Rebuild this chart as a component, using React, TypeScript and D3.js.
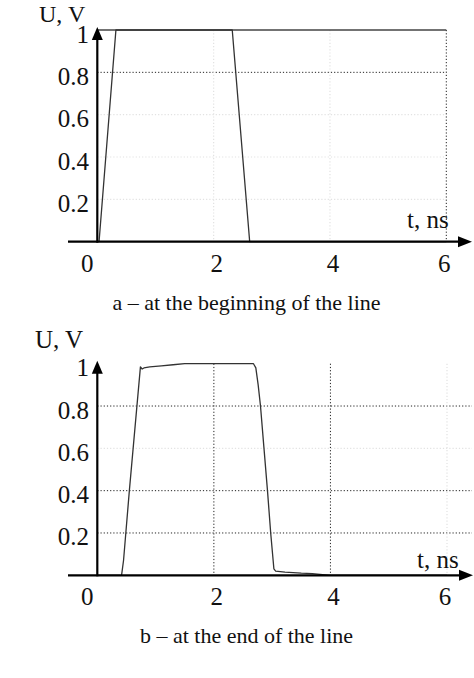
import React from "react";
import * as d3 from "d3";

// ---- data ----
const xTicks = [0, 2, 4, 6];
const yTicks = [0.2, 0.4, 0.6, 0.8, 1];
const yTickLabels = ["0.2", "0.4", "0.6", "0.8", "1"];

// a – at the beginning of the line
const beginT = [0.03, 0.32, 2.32, 2.62, 6.0];
const beginU = [0.0, 1.0, 1.0, 0.0, 0.0];

// b – at the end of the line
const endT = [0.0, 0.416, 0.45, 0.55, 0.74, 0.77, 0.8, 0.9, 1.1, 1.3, 1.5, 2.0, 2.68, 2.72, 2.76, 2.8, 2.86, 2.92, 2.975, 3.03, 3.06, 3.22, 3.5, 3.69, 3.91, 4.0, 6.0];
const endU = [0.0, 0.0, 0.07, 0.4, 0.985, 0.975, 0.98, 0.985, 0.99, 0.995, 1.0, 1.0, 1.0, 0.98, 0.9, 0.8, 0.6, 0.4, 0.2, 0.03, 0.02, 0.015, 0.01, 0.008, 0.002, 0.0, 0.0];

const captions = ["a – at the beginning of the line", "b – at the end of the line"];

const FONT = "'Liberation Serif', 'Times New Roman', serif";
const DARK = "#222";
const FAINT = "#e2e2e2";

type PanelProps = {
  t: number[];
  u: number[];
  x0: number; x1: number; yBase: number; yTop: number;
  axisLeft: number; axisRight: number;
  darkH: number[];
  darkV: number[];
  hRight: number;
  topSolid: boolean;
  uvX: number; uvDy: number; uvSize: number;
  tnsX: number; tnsDy: number;
  caption: string; captionY: number;
};

function Panel(p: PanelProps) {
  const x = d3.scaleLinear().domain([0, 6]).range([p.x0, p.x1]);
  const y = d3.scaleLinear().domain([0, 1]).range([p.yBase, p.yTop]);
  const line = d3.line<number>().x((_, i) => x(p.t[i])).y((d) => y(d));
  const yAxisX = x(0);
  return (
    <g>
      {yTicks.filter((v) => v < 1).map((v) => (
        <line key={"h" + v} x1={yAxisX} x2={p.hRight} y1={y(v)} y2={y(v)}
          stroke={p.darkH.includes(v) ? DARK : FAINT}
          strokeWidth={p.darkH.includes(v) ? 1 : 1.2}
          strokeDasharray="1.2,2" />
      ))}
      {xTicks.filter((v) => v > 0).map((v) => (
        <line key={"v" + v} x1={x(v)} x2={x(v)} y1={y(1)} y2={p.yBase}
          stroke={p.darkV.includes(v) ? DARK : FAINT}
          strokeWidth={p.darkV.includes(v) ? 1 : 1.2}
          strokeDasharray="1.2,2" />
      ))}
      {p.topSolid && (
        <line x1={yAxisX} x2={x(6)} y1={y(1)} y2={y(1)} stroke="#444" strokeWidth={1.3} />
      )}
      <path d={line(p.u) || ""} fill="none" stroke="#333" strokeWidth={1.3} strokeLinejoin="round" />
      <line x1={p.axisLeft} x2={p.axisRight - 10} y1={p.yBase} y2={p.yBase} stroke="#000" strokeWidth={2.2} />
      <path d={`M${p.axisRight},${p.yBase} L${p.axisRight - 14},${p.yBase - 5.5} L${p.axisRight - 14},${p.yBase + 5.5} Z`} fill="#000" />
      <line x1={yAxisX} x2={yAxisX} y1={p.yBase + 1} y2={y(1) + 2} stroke="#000" strokeWidth={2.2} />
      <path d={`M${yAxisX},${y(1) - 3} L${yAxisX - 5.5},${y(1) + 10} L${yAxisX + 5.5},${y(1) + 10} Z`} fill="#000" />
      {yTicks.map((v, i) => (
        <text key={"yl" + v} x={89} y={y(v) + 12.5} textAnchor="end" fontSize={25} fontFamily={FONT} fill="#111">
          {yTickLabels[i]}
        </text>
      ))}
      {xTicks.map((v) => (
        <text key={"xl" + v} x={x(v) + (v === 0 ? -10 : v === 6 ? -2 : 3)} y={p.yBase + 30} textAnchor="middle" fontSize={25} fontFamily={FONT} fill="#111">
          {v}
        </text>
      ))}
      <text x={p.uvX} y={y(1) + p.uvDy} fontSize={p.uvSize} fontFamily={FONT} fill="#111">U, V</text>
      <text x={p.tnsX} y={p.yBase + p.tnsDy} fontSize={25} fontFamily={FONT} fill="#111">t, ns</text>
      <text x={246.5} y={p.captionY} textAnchor="middle" fontSize={22} fontFamily={FONT} fill="#111">{p.caption}</text>
    </g>
  );
}

export default function App() {
  return (
    <svg width={474} height={678} style={{ position: "absolute", left: 0, top: 0, background: "#fff" }}>
      <rect width={474} height={678} fill="#fff" />
      <Panel t={beginT} u={beginU} x0={97.3} x1={446.3} yBase={241.7} yTop={30}
        axisLeft={68} axisRight={472} darkH={[0.8]} darkV={[6]} hRight={446.3} topSolid={true}
        uvX={39} uvDy={-8} uvSize={24} tnsX={407} tnsDy={-14} caption={captions[0]} captionY={310} />
      <Panel t={endT} u={endU} x0={97.3} x1={447} yBase={575.3} yTop={363.7}
        axisLeft={68} axisRight={473} darkH={[0.8, 0.4, 0.2]} darkV={[2, 4]} hRight={472} topSolid={false}
        uvX={35} uvDy={-15.5} uvSize={25} tnsX={417} tnsDy={-7} caption={captions[1]} captionY={643} />
    </svg>
  );
}
